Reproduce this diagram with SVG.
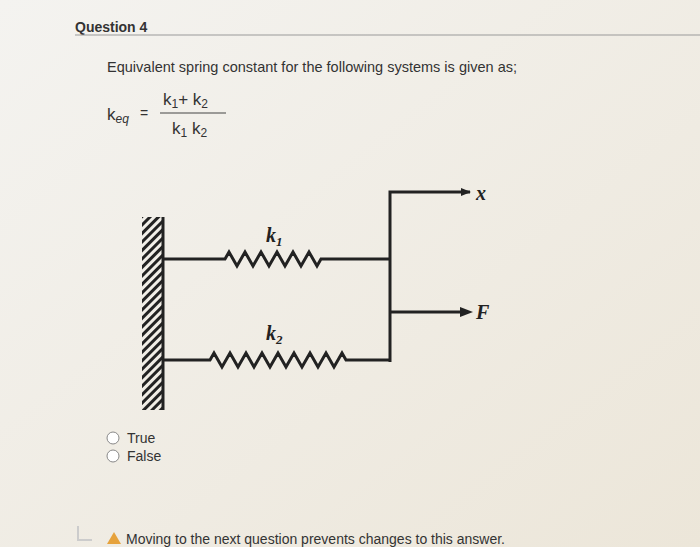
<svg xmlns="http://www.w3.org/2000/svg" width="700" height="547" viewBox="0 0 700 547">
<defs>
<style>
.t{font-family:"Liberation Sans",Arial,sans-serif;fill:#333}
.m{font-family:"Liberation Serif",serif;font-style:italic;font-weight:bold;fill:#222}
.ln{stroke:#222;stroke-width:3;fill:none}
</style>
<marker id="ah" markerWidth="10" markerHeight="8" refX="9" refY="4" orient="auto" markerUnits="userSpaceOnUse"><path d="M0,0 L10,4 L0,8 Z" fill="#222"/></marker>
<pattern id="hatch" width="6" height="6" patternUnits="userSpaceOnUse" patternTransform="rotate(45)"><rect width="3" height="6" fill="#222"/></pattern>
<linearGradient id="bg" x1="0" y1="0" x2="1" y2="1"><stop offset="0" stop-color="#f4f3f0"/><stop offset="1" stop-color="#ece6d9"/></linearGradient>
</defs>
<rect width="700" height="547" fill="url(#bg)"/>
<text class="t" x="75" y="32" font-size="14" font-weight="bold">Question 4</text>
<line x1="75" y1="35" x2="700" y2="35" stroke="#999" stroke-width="1.2"/>
<text class="t" x="107" y="72" font-size="14.5" textLength="410">Equivalent spring constant for the following systems is given as;</text>
<text class="t" x="107" y="120" font-size="17">k<tspan font-size="12" font-style="italic" dy="3">eq</tspan></text>
<text class="t" x="140" y="118" font-size="14" fill="#888">=</text>
<text class="t" x="163" y="105" font-size="17">k<tspan font-size="12" dy="3">1</tspan><tspan dy="-3">+ k</tspan><tspan font-size="12" dy="3">2</tspan></text>
<line x1="160" y1="113" x2="226" y2="113" stroke="#444" stroke-width="1"/>
<text class="t" x="172" y="134" font-size="17">k<tspan font-size="12" dy="3">1</tspan><tspan dy="-3"> k</tspan><tspan font-size="12" dy="3">2</tspan></text>
<g id="wall"><rect x="142" y="217" width="20" height="193" fill="url(#hatch)"/><line class="ln" x1="163" y1="217" x2="163" y2="410"/></g>
<g id="k1"><path class="ln" stroke-width="2.5" d="M163,259 H225 l4,-7 l8,14 l8,-14 l8,14 l8,-14 l8,14 l8,-14 l8,14 l8,-14 l8,14 l8,-14 l8,14 l4,-7 H390"/><text class="m" x="266" y="242" font-size="20">k<tspan font-size="13" dy="4">1</tspan></text></g>
<g id="k2"><path class="ln" stroke-width="2.5" d="M163,360 H210 l4,-7 l8,14 l8,-14 l8,14 l8,-14 l8,14 l8,-14 l8,14 l8,-14 l8,14 l8,-14 l8,14 l8,-14 l8,14 l8,-14 l8,14 l8,-14 l4,7 H390"/><text class="m" x="266" y="340" font-size="20">k<tspan font-size="13" dy="4">2</tspan></text></g>
<g id="connectors">
<path class="ln" d="M390,259 V192 H470" marker-end="url(#ah)"/>
<line class="ln" stroke-width="4.5" x1="390" y1="259" x2="390" y2="362"/>
<line class="ln" stroke-width="5" x1="390" y1="312" x2="462" y2="312"/>
<path d="M460,307 L473,312 L460,317 Z" fill="#222"/>
</g>
<text class="m" x="476" y="200" font-size="20">x</text>
<text class="m" x="476" y="319" font-size="20">F</text>
<circle cx="113" cy="438" r="6" fill="#fff" stroke="#888"/>
<circle cx="113" cy="456" r="6" fill="#fff" stroke="#888"/>
<text class="t" x="127" y="443" font-size="14">True</text>
<text class="t" x="127" y="461" font-size="14">False</text>
<path d="M78,526 V540 H92" stroke="#ccc" stroke-width="2" fill="none"/>
<path d="M114,532 L121,544 L107,544 Z" fill="#e6a23c"/>
<text class="t" x="126" y="544" font-size="14">Moving to the next question prevents changes to this answer.</text>
</svg>
